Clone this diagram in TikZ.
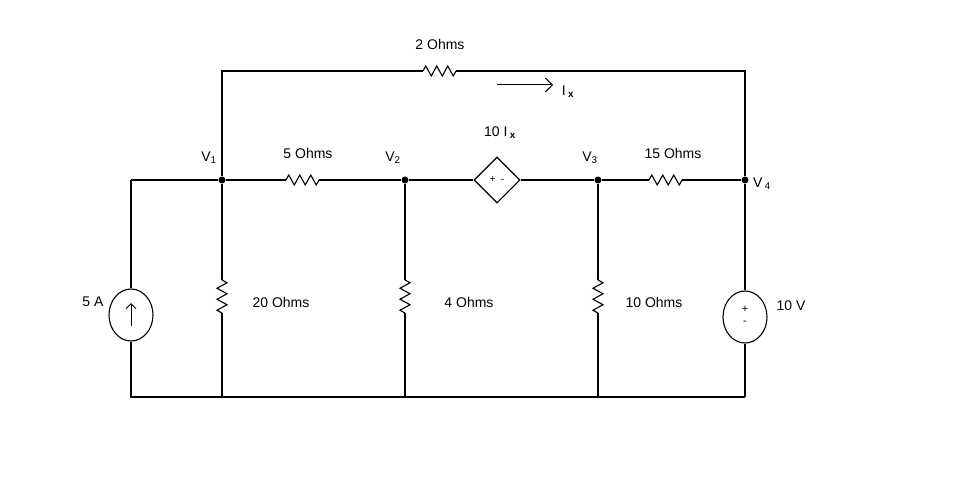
\documentclass[tikz,border=0pt]{standalone}
\usepackage{fontspec}
\setmainfont{Liberation Sans}
\usetikzlibrary{decorations.pathmorphing,shapes.geometric,arrows.meta}
\begin{document}
\begin{tikzpicture}[x=1pt,y=-1pt,line width=1.1pt,
  lbl/.style={font=\fontsize{14}{16}\selectfont,inner sep=0pt},
  res/.style={decorate,decoration={zigzag,segment length=11pt,amplitude=5pt,pre length=0pt,post length=0pt}},
  dot/.style={circle,fill=black,inner sep=0pt,minimum size=7pt},
  src/.style={ellipse,draw,line width=1.1pt,minimum width=44pt,minimum height=52pt,inner sep=0pt}]
\useasboundingbox (0,0) rectangle (956,487);
\coordinate (TL) at (222,71); \coordinate (TR) at (745,71);
\node[dot] (n1) at (222,180) {};
\node[dot] (n2) at (405,180) {};
\node[dot] (n3) at (598,180) {};
\node[dot] (n4) at (745,180) {};
\coordinate (L) at (131,180);
\coordinate (BL) at (131,397); \coordinate (B1) at (222,397);
\coordinate (B2) at (405,397); \coordinate (B3) at (598,397); \coordinate (BR) at (745,397);
\node[src] (cs) at (131,315) {};
\node[src] (vs) at (745,317) {};
\node[diamond,draw,line width=1.1pt,minimum width=46pt,minimum height=46pt,inner sep=0pt,font=\fontsize{10}{10}\selectfont] (dep) at (497,180) {+\,\,\,-};
% top wire with 2 ohm
\draw (n1) -- (TL) -- (423,71);
\draw[res] (423,71) -- (456,71);
\draw (456,71) -- (TR) -- (n4);
% middle wire
\draw (L) -- (n1) -- (286,180);
\draw[res] (286,180) -- (319,180);
\draw (319,180) -- (n2) -- (dep.west);
\draw (dep.east) -- (n3) -- (649,180);
\draw[res] (649,180) -- (682,180);
\draw (682,180) -- (n4);
% verticals
\draw (L) -- (cs.north); \draw (cs.south) -- (BL) -- (BR);
\draw (n1) -- (222,280); \draw[res] (222,280) -- (222,313); \draw (222,313) -- (B1);
\draw (n2) -- (405,280); \draw[res] (405,280) -- (405,313); \draw (405,313) -- (B2);
\draw (n3) -- (598,280); \draw[res] (598,280) -- (598,313); \draw (598,313) -- (B3);
\draw (n4) -- (vs.north); \draw (vs.south) -- (BR);
% source symbols
\draw[-{Straight Barb[length=5pt]},line width=1pt] (131,326) -- (131,303);
\node[font=\fontsize{11}{11}\selectfont,inner sep=0pt] at (745,309) {+};
\node[font=\fontsize{11}{11}\selectfont,inner sep=0pt] at (745,323) {-};
% Ix arrow
\coordinate (a1) at (497,85); \coordinate (a2) at (553,85);
\draw[-{Straight Barb[length=7pt]},line width=1pt] (a1) -- (a2);
% labels
\node[lbl] at (440,44) {2 Ohms};
\node[lbl] at (568,92) {I\,\textsubscript{\textbf{x}}};
\node[lbl] at (500,133) {10 I\,\textsubscript{\textbf{x}}};
\node[lbl] at (308,153) {5 Ohms};
\node[lbl] at (673,153) {15 Ohms};
\node[lbl] at (209,158) {V\textsubscript{1}};
\node[lbl] at (393,158) {V\textsubscript{2}};
\node[lbl] at (590,158) {V\textsubscript{3}};
\node[lbl] at (762,184) {V\,\textsubscript{4}};
\node[lbl] at (93,302) {5 A};
\node[lbl] at (281,302) {20 Ohms};
\node[lbl] at (469,302) {4 Ohms};
\node[lbl] at (654,302) {10 Ohms};
\node[lbl] at (791,306) {10 V};
\end{tikzpicture}
\end{document}
